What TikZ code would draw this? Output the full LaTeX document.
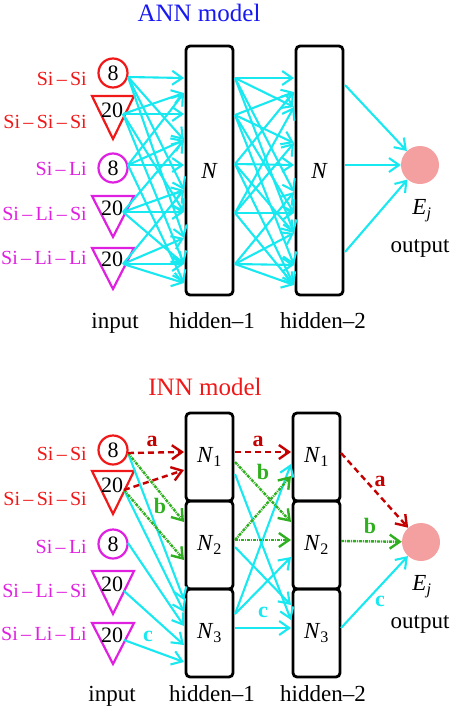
\documentclass[tikz,border=0pt]{standalone}
\usepackage{fontspec}
\setmainfont{Liberation Serif}
\usetikzlibrary{positioning, arrows.meta, calc}
\definecolor{sired}{HTML}{F01818}
\definecolor{limag}{HTML}{E020E0}
\definecolor{wirecyan}{HTML}{18E8F0}
\definecolor{pathred}{HTML}{C40000}
\definecolor{pathgreen}{HTML}{30B020}
\definecolor{outpink}{HTML}{F4A0A0}
\definecolor{titleblue}{HTML}{1818F0}
\newcommand\bondfont{\fontsize{20}{22}\selectfont}
\newcommand\numfont{\fontsize{22}{24}\selectfont}
\newcommand\layerfont{\fontsize{23}{25}\selectfont}
\newcommand\capfont{\fontsize{23}{25}\selectfont}
\newcommand\ttlfont{\fontsize{25}{27}\selectfont}
\newcommand\tagfont{\fontsize{22}{24}\selectfont}
\tikzset{
  pairnode/.style={circle, line width=2.2pt, minimum size=29pt, inner sep=0pt, font=\numfont},
  numtext/.style={inner sep=0pt, font=\numfont},
  tripath/.style={line width=2.2pt, line join=miter},
  bond/.style={anchor=base east, inner sep=0pt, font=\bondfont},
  layer/.style={draw, line width=2.8pt, rounded corners=4pt, minimum width=47pt, inner sep=0pt, font=\layerfont},
  outnode/.style={circle, fill=outpink, minimum size=38pt, inner sep=0pt},
  caption/.style={anchor=base, inner sep=0pt, font=\capfont},
  wire/.style={-{Straight Barb[length=10pt, width=14pt]}, line width=2.1pt, draw=wirecyan},
  wirea/.style={wire, draw=pathred, line width=2.4pt, dash pattern=on 6pt off 4pt},
  wireb/.style={wire, draw=pathgreen, line width=2.4pt, dash pattern=on 3pt off 1pt on 1pt off 1pt},
  tag/.style={font=\bfseries\tagfont, inner sep=1pt},
}
\begin{document}
\begin{tikzpicture}[x=1pt, y=-1pt]
  \useasboundingbox (0,0) rectangle (450,710);

  % ANN model
  \node[font=\ttlfont, text=titleblue] (annTitle) at (199,13) {ANN model};
  \node[bond, text=sired] (annLab1) at (87,85) {Si\,–\,Si};
  \node[bond, text=sired] (annLab2) at (87,128) {Si\,–\,Si\,–\,Si};
  \node[bond, text=limag] (annLab3) at (87,175) {Si\,–\,Li};
  \node[bond, text=limag] (annLab4) at (87,220) {Si\,–\,Li\,–\,Si};
  \node[bond, text=limag] (annLab5) at (87,264) {Si\,–\,Li\,–\,Li};

  \foreach \c/\t/\b in {sired/96/139, limag/196/237, limag/248/289}
    \draw[tripath, \c] (92,\t) -- (134,\t) -- (113,\b) -- cycle;
  \node[pairnode, draw=sired] (annSiSi) at (113,73) {8};
  \node[numtext] (annSiSiSi) at (112,110) {20};
  \node[pairnode, draw=limag] (annSiLi) at (113,168) {8};
  \node[numtext] (annSiLiSi) at (112,208) {20};
  \node[numtext] (annSiLiLi) at (112,259) {20};

  \node[layer, minimum height=249pt] (annH1) at (209.5,170.5) {\textit{N}};
  \node[layer, minimum height=249pt] (annH2) at (319.5,170.5) {\textit{N}};
  \node[outnode] (annOut) at (420,165) {};
  \node[font=\layerfont] (annE) at (422,211) {\textit{E}\textsubscript{\textit{j}}};
  \node[caption] (annOutLab) at (420,252) {output};
  \node[caption] (annCap1) at (115,328) {input};
  \node[caption] (annCap2) at (212,328) {hidden–1};
  \node[caption] (annCap3) at (323,328) {hidden–2};

  \foreach \i/\x/\y in {1/128/77, 2/123/114, 3/128/165, 4/123/212, 5/123/264}
    \coordinate (annIn\i) at (\x,\y);
  \foreach \k/\y in {1/78, 2/93, 3/114, 4/140, 5/165, 6/190, 7/212, 8/238, 9/264, 10/283}
    \coordinate (annP\k) at (184,\y);
  \foreach \i/\y in {1/78, 2/115, 3/164, 4/213, 5/264}
    \coordinate (annR\i) at (235,\y);
  \foreach \k/\y in {1/78, 2/92, 3/107, 4/143, 5/165, 6/192, 7/213, 8/233, 9/265, 10/285}
    \coordinate (annQ\k) at (294,\y);
  \foreach \i/\y in {1/85, 2/165, 3/252}
    \coordinate (annS\i) at (345,\y);

  \foreach \s/\t in {1/1,1/4,1/6,1/8, 2/2,2/3,2/7,2/9, 3/2,3/4,3/5,3/10, 4/4,4/6,4/7,4/9, 5/6,5/8,5/9,5/10}
    \draw[wire] (annIn\s) -- (annP\t);
  \foreach \s/\t in {1/1,1/3,1/6,1/8, 2/2,2/4,2/7,2/9, 3/2,3/5,3/8,3/10, 4/3,4/4,4/7,4/10, 5/6,5/8,5/9,5/10}
    \draw[wire] (annR\s) -- (annQ\t);
  \foreach \s in {1,2,3}
    \draw[wire] (annS\s) -- (annOut);

  % INN model
  \node[font=\ttlfont, text=sired] (innTitle) at (205,387) {INN model};
  \node[bond, text=sired] (innLab1) at (87,460) {Si\,–\,Si};
  \node[bond, text=sired] (innLab2) at (87,505) {Si\,–\,Si\,–\,Si};
  \node[bond, text=limag] (innLab3) at (87,553) {Si\,–\,Li};
  \node[bond, text=limag] (innLab4) at (87,597) {Si\,–\,Li\,–\,Si};
  \node[bond, text=limag] (innLab5) at (87,640) {Si\,–\,Li\,–\,Li};

  \foreach \c/\t/\b in {sired/471/514, limag/571/614, limag/623/664}
    \draw[tripath, \c] (92,\t) -- (134,\t) -- (113,\b) -- cycle;
  \node[pairnode, draw=sired] (innSiSi) at (113,450) {8};
  \node[numtext] (innSiSiSi) at (112,485) {20};
  \node[pairnode, draw=limag] (innSiLi) at (113,544) {8};
  \node[numtext] (innSiLiSi) at (112,584) {20};
  \node[numtext] (innSiLiLi) at (112,635) {20};

  \node[layer, minimum height=88pt] (innH1a) at (209.5,457) {\textit{N}\textsubscript{1}};
  \node[layer, minimum height=88pt] (innH1b) at (209.5,545) {\textit{N}\textsubscript{2}};
  \node[layer, minimum height=88pt] (innH1c) at (209.5,633) {\textit{N}\textsubscript{3}};
  \node[layer, minimum height=88pt] (innH2a) at (316.5,457) {\textit{N}\textsubscript{1}};
  \node[layer, minimum height=88pt] (innH2b) at (316.5,545) {\textit{N}\textsubscript{2}};
  \node[layer, minimum height=88pt] (innH2c) at (316.5,633) {\textit{N}\textsubscript{3}};
  \node[outnode] (innOut) at (421,542) {};
  \node[font=\layerfont] (innE) at (422,587) {\textit{E}\textsubscript{\textit{j}}};
  \node[caption] (innOutLab) at (420,628) {output};
  \node[caption] (innCap1) at (112,701) {input};
  \node[caption] (innCap2) at (212,701) {hidden–1};
  \node[caption] (innCap3) at (323,701) {hidden–2};

  \foreach \i/\x/\y in {1/128/453, 2/124/490, 3/128/543, 4/124/591, 5/124/640}
    \coordinate (innIn\i) at (\x,\y);
  % hidden-1 left side
  \coordinate (innA1) at (184,452);
  \coordinate (innA2) at (184,470);
  \coordinate (innB1) at (184,522);
  \coordinate (innB2) at (184,560);
  \foreach \i/\y in {1/600, 2/612, 3/626, 4/645, 5/662}
    \coordinate (innC\i) at (184,\y);
  % hidden-1 right side
  \coordinate (innRa) at (235,452);
  \coordinate (innRb1) at (235,462);
  \coordinate (innRb2) at (235,540);
  \coordinate (innRc1) at (235,474);
  \coordinate (innRc2) at (235,547);
  \coordinate (innRc3) at (235,614);
  \coordinate (innRc4) at (235,628);
  % hidden-2 left side
  \coordinate (innQa) at (291,452);
  \coordinate (innQb1) at (291,522);
  \coordinate (innQb2) at (291,476);
  \coordinate (innQb3) at (291,540);
  \coordinate (innQc1) at (291,464);
  \coordinate (innQc2) at (291,557);
  \coordinate (innQc3) at (291,605);
  \coordinate (innQc4) at (291,620);
  \coordinate (innQc5) at (291,628);
  % hidden-2 right side
  \coordinate (innSa) at (341,453);
  \coordinate (innSb) at (341,541);
  \coordinate (innSc) at (341,628);

  % path c
  \foreach \i in {1,...,5}
    \draw[wire] (innIn\i) -- (innC\i);
  \draw[wire] (innRc1) -- (innQc4);
  \draw[wire] (innRc2) -- (innQc3);
  \draw[wire] (innRc3) -- (innQc1);
  \draw[wire] (innRc3) -- (innQc2);
  \draw[wire] (innRc4) -- (innQc5);
  \draw[wire] (innSc) -- (innOut);
  % path b
  \draw[wireb] (innIn1) -- (innB1);
  \draw[wireb] (innIn2) -- (innB2);
  \draw[wireb] (innRb1) -- (innQb1);
  \draw[wireb] (innRb2) -- (innQb2);
  \draw[wireb] (innRb2) -- (innQb3);
  \draw[wireb] (innSb) -- (innOut);
  % path a
  \draw[wirea] (innIn1) -- (innA1);
  \draw[wirea] (innIn2) -- (innA2);
  \draw[wirea] (innRa) -- (innQa);
  \draw[wirea] (innSa) -- (innOut);

  \node[tag, text=pathred] (tagA1) at (152,441) {a};
  \node[tag, text=pathred] (tagA2) at (258,441) {a};
  \node[tag, text=pathred] (tagA3) at (380,481) {a};
  \node[tag, text=pathgreen] (tagB1) at (160,506) {b};
  \node[tag, text=pathgreen] (tagB2) at (263,472) {b};
  \node[tag, text=pathgreen] (tagB3) at (370,526) {b};
  \node[tag, text=wirecyan] (tagC1) at (148,636) {c};
  \node[tag, text=wirecyan] (tagC2) at (263,612) {c};
  \node[tag, text=wirecyan] (tagC3) at (380,601) {c};
\end{tikzpicture}
\end{document}
